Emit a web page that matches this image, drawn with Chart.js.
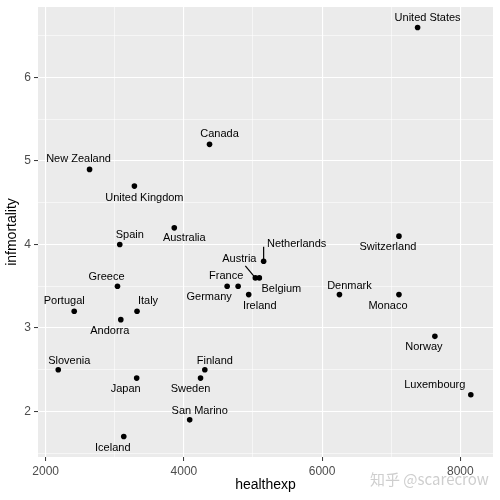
<!DOCTYPE html>
<html>
<head>
<meta charset="utf-8">
<script src="https://cdn.jsdelivr.net/npm/chart.js@4.4.0/dist/chart.umd.min.js"></script>
<style>
  html, body { margin: 0; padding: 0; background: #fff; }
  #wrap { width: 500px; height: 500px; }
</style>
</head>
<body>
<div id="wrap"><canvas id="grafico" width="500" height="500"></canvas></div>
<script>
// dados
const paises = [
  "United States", "Canada", "New Zealand", "United Kingdom", "Australia", "Spain",
  "Netherlands", "Switzerland", "Austria", "Belgium", "France", "Germany", "Ireland",
  "Denmark", "Monaco", "Norway", "Luxembourg", "Greece", "Portugal", "Italy",
  "Andorra", "Slovenia", "Japan", "Finland", "Sweden", "San Marino", "Iceland"
];
const healthexp = [
  7382, 4371, 2635, 3284, 3861, 3072,
  5154, 7112, 5034, 5092, 4785, 4626, 4938,
  6251, 7112, 7632, 8152, 3039, 2413, 3322,
  3087, 2182, 3317, 4303, 4241, 4084, 3130
];
const infmortality = [
  6.6, 5.2, 4.9, 4.7, 4.2, 4.0,
  3.8, 4.1, 3.6, 3.6, 3.5, 3.5, 3.4,
  3.4, 3.4, 2.9, 2.2, 3.5, 3.2, 3.2,
  3.1, 2.5, 2.4, 2.5, 2.4, 1.9, 1.7
];
const xTicks = [2000, 4000, 6000, 8000];
const yTicks = [2, 3, 4, 5, 6];

// deslocamento dos rótulos em px (estilo ggrepel)
const rotulos = {
  "United States": [10, -9], "Canada": [10, -10], "New Zealand": [-11, -10],
  "United Kingdom": [10, 12], "Australia": [10, 10], "Spain": [10, -10],
  "Netherlands": [33, -17], "Switzerland": [-11, 11], "Austria": [-16, -19],
  "Belgium": [22, 11], "France": [-12, -10], "Germany": [-18, 11], "Ireland": [11, 11],
  "Denmark": [10, -9], "Monaco": [-11, 11], "Norway": [-11, 11], "Luxembourg": [-36, -10],
  "Greece": [-11, -9], "Portugal": [-10, -10], "Italy": [11, -10], "Andorra": [-11, 11],
  "Slovenia": [11, -9], "Japan": [-11, 11], "Finland": [10, -9], "Sweden": [-10, 11],
  "San Marino": [10, -9], "Iceland": [-11, 11]
};
const linhas = { "Netherlands": [0, -14.5], "Austria": [-10, -12] };

const fonte = "'Liberation Sans', Arial, sans-serif";

function meios(arr) {
  const out = [];
  for (let i = 0; i < arr.length; i++) {
    out.push(arr[i]);
    if (i < arr.length - 1) out.push((arr[i] + arr[i + 1]) / 2);
  }
  return out;
}

const painelPlugin = {
  id: "painel",
  beforeDraw(chart) {
    const { ctx, chartArea: a } = chart;
    ctx.save();
    ctx.fillStyle = "#EBEBEB";
    ctx.fillRect(a.left, a.top, a.right - a.left, a.bottom - a.top);
    ctx.restore();
  },
  afterDatasetsDraw(chart) {
    const { ctx, scales } = chart;
    ctx.save();
    ctx.font = "11px " + fonte;
    ctx.fillStyle = "#000";
    ctx.strokeStyle = "#000";
    ctx.lineWidth = 1.2;
    ctx.textAlign = "center";
    ctx.textBaseline = "middle";
    paises.forEach((p, i) => {
      const px = scales.x.getPixelForValue(healthexp[i]);
      const py = scales.y.getPixelForValue(infmortality[i]);
      if (linhas[p]) {
        ctx.beginPath();
        ctx.moveTo(px, py);
        ctx.lineTo(px + linhas[p][0], py + linhas[p][1]);
        ctx.stroke();
      }
      const d = rotulos[p] || [0, -10];
      ctx.fillText(p, px + d[0], py + d[1]);
    });
    ctx.restore();
  },
  afterDraw(chart) {
    const { ctx } = chart;
    ctx.save();
    ctx.font = "15px 'Noto Sans CJK SC', " + fonte;
    ctx.fillStyle = "rgba(190,190,190,0.75)";
    ctx.textBaseline = "middle";
    ctx.fillText("知乎 @scarecrow", 370, 479);
    ctx.restore();
  }
};

const ctx = document.getElementById("grafico").getContext("2d");

const grafico = new Chart(ctx, {
  type: "scatter",
  data: {
    datasets: [{
      data: healthexp.map((v, i) => ({ x: v, y: infmortality[i] })),
      backgroundColor: "#000",
      borderColor: "#000",
      pointRadius: 2.8,
      borderWidth: 0
    }]
  },
  options: {
    responsive: false,
    devicePixelRatio: 1,
    animation: false,
    layout: { padding: { top: 7, right: 7, left: 0, bottom: 0 } },
    plugins: { legend: { display: false }, tooltip: { enabled: false } },
    scales: {
      x: {
        type: "linear",
        min: 1889,
        max: 8473,
        afterBuildTicks: (s) => { s.ticks = meios(xTicks).map(v => ({ value: v })); },
        afterFit: (s) => { s.height = 43; s.paddingLeft = 0; s.paddingRight = 0; },
        border: { display: false },
        grid: {
          color: "#fff",
          lineWidth: (c) => (xTicks.includes(c.tick.value) ? 1.1 : 0.55),
          tickLength: 4,
          tickWidth: 1,
          tickColor: (c) => (xTicks.includes(c.tick.value) ? "#333" : "rgba(0,0,0,0)")
        },
        ticks: {
          padding: 3,
          color: "#4D4D4D",
          font: { family: fonte, size: 12 },
          maxRotation: 0,
          callback: (v) => (xTicks.includes(v) ? String(v) : "")
        },
        title: {
          display: true,
          text: "healthexp",
          color: "#000",
          font: { family: fonte, size: 14 },
          padding: { top: 0, bottom: 6.6 }
        }
      },
      y: {
        type: "linear",
        min: 1.455,
        max: 6.845,
        afterBuildTicks: (s) => { s.ticks = [1.5].concat(meios(yTicks), [6.5]).map(v => ({ value: v })); },
        afterFit: (s) => { s.width = 38; s.paddingTop = 0; s.paddingBottom = 0; },
        border: { display: false },
        grid: {
          color: "#fff",
          lineWidth: (c) => (yTicks.includes(c.tick.value) ? 1.1 : 0.55),
          tickLength: 4,
          tickWidth: 1,
          tickColor: (c) => (yTicks.includes(c.tick.value) ? "#333" : "rgba(0,0,0,0)")
        },
        ticks: {
          padding: 3,
          color: "#4D4D4D",
          font: { family: fonte, size: 12 },
          callback: (v) => (yTicks.includes(v) ? String(v) : "")
        },
        title: {
          display: true,
          text: "infmortality",
          color: "#000",
          font: { family: fonte, size: 14 },
          padding: { top: 3.6, bottom: 0 }
        }
      }
    }
  },
  plugins: [painelPlugin]
});
</script>
</body>
</html>
